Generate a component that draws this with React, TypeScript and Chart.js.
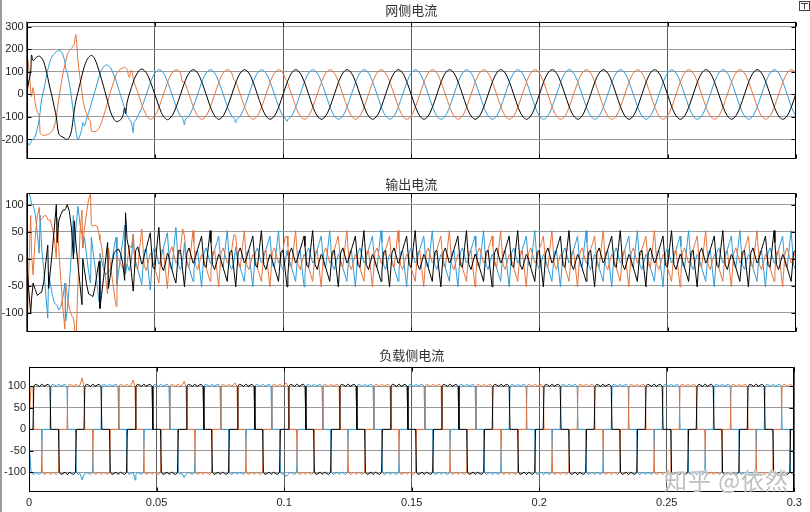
import React, { useEffect, useRef } from "react";
import { Chart, registerables } from "chart.js";

Chart.register(...registerables);

// time axis (milliseconds)
const T_MS = [
  0,0.83,1.56,1.89,2.5,3.33,4.17,4.89,5.22,5.83,6.67,7.5,8.22,8.56,9.17,10,10.83,11.56,11.89,12.5,13.33,14.17,14.89,15.22,15.83,16.67,17.5,18.22,18.56,19.17,
  20,20.83,21.56,21.89,22.5,23.33,24.17,24.89,25.22,25.83,26.67,27.5,28.22,28.56,29.17,30,30.83,31.56,31.89,32.5,33.33,34.17,34.89,35.22,35.83,36.67,37.5,38.22,38.56,39.17,
  40,40.83,41.56,41.89,42.5,43.33,44.17,44.89,45.22,45.83,46.67,47.5,48.22,48.56,49.17,50,50.83,51.56,51.89,52.5,53.33,54.17,54.89,55.22,55.83,56.67,57.5,58.22,58.56,59.17,
  60,60.83,61.56,61.89,62.5,63.33,64.17,64.89,65.22,65.83,66.67,67.5,68.22,68.56,69.17,70,70.83,71.56,71.89,72.5,73.33,74.17,74.89,75.22,75.83,76.67,77.5,78.22,78.56,79.17,
  80,80.83,81.56,81.89,82.5,83.33,84.17,84.89,85.22,85.83,86.67,87.5,88.22,88.56,89.17,90,90.83,91.56,91.89,92.5,93.33,94.17,94.89,95.22,95.83,96.67,97.5,98.22,98.56,99.17,
  100,100.83,101.56,101.89,102.5,103.33,104.17,104.89,105.22,105.83,106.67,107.5,108.22,108.56,109.17,110,110.83,111.56,111.89,112.5,113.33,114.17,114.89,115.22,115.83,116.67,117.5,118.22,118.56,119.17,
  120,120.83,121.56,121.89,122.5,123.33,124.17,124.89,125.22,125.83,126.67,127.5,128.22,128.56,129.17,130,130.83,131.56,131.89,132.5,133.33,134.17,134.89,135.22,135.83,136.67,137.5,138.22,138.56,139.17,
  140,140.83,141.56,141.89,142.5,143.33,144.17,144.89,145.22,145.83,146.67,147.5,148.22,148.56,149.17,150,150.83,151.56,151.89,152.5,153.33,154.17,154.89,155.22,155.83,156.67,157.5,158.22,158.56,159.17,
  160,160.83,161.56,161.89,162.5,163.33,164.17,164.89,165.22,165.83,166.67,167.5,168.22,168.56,169.17,170,170.83,171.56,171.89,172.5,173.33,174.17,174.89,175.22,175.83,176.67,177.5,178.22,178.56,179.17,
  180,180.83,181.56,181.89,182.5,183.33,184.17,184.89,185.22,185.83,186.67,187.5,188.22,188.56,189.17,190,190.83,191.56,191.89,192.5,193.33,194.17,194.89,195.22,195.83,196.67,197.5,198.22,198.56,199.17,
  200,200.83,201.56,201.89,202.5,203.33,204.17,204.89,205.22,205.83,206.67,207.5,208.22,208.56,209.17,210,210.83,211.56,211.89,212.5,213.33,214.17,214.89,215.22,215.83,216.67,217.5,218.22,218.56,219.17,
  220,220.83,221.56,221.89,222.5,223.33,224.17,224.89,225.22,225.83,226.67,227.5,228.22,228.56,229.17,230,230.83,231.56,231.89,232.5,233.33,234.17,234.89,235.22,235.83,236.67,237.5,238.22,238.56,239.17,
  240,240.83,241.56,241.89,242.5,243.33,244.17,244.89,245.22,245.83,246.67,247.5,248.22,248.56,249.17,250,250.83,251.56,251.89,252.5,253.33,254.17,254.89,255.22,255.83,256.67,257.5,258.22,258.56,259.17,
  260,260.83,261.56,261.89,262.5,263.33,264.17,264.89,265.22,265.83,266.67,267.5,268.22,268.56,269.17,270,270.83,271.56,271.89,272.5,273.33,274.17,274.89,275.22,275.83,276.67,277.5,278.22,278.56,279.17,
  280,280.83,281.56,281.89,282.5,283.33,284.17,284.89,285.22,285.83,286.67,287.5,288.22,288.56,289.17,290,290.83,291.56,291.89,292.5,293.33,294.17,294.89,295.22,295.83,296.67,297.5,298.22,298.56,299.17,
  300,
];

// 网侧电流
const GRID_BLACK = [
  0,60,100,175,150,160,168,170,168,162,145,110,75,55,25,-15,-60,-100,-130,-175,-185,-190,-195,-198,-200,-190,-160,-100,-70,-30,
  10,50,85,100,125,150,165,172,173,170,155,130,105,92,68,35,0,-30,-45,-70,-95,-112,-120,-121,-118,-112,-95,-60,-85,-35,
  0,30,55,66,82,98,110,113,112,107,96,78,57,47,27,0,-28,-52,-62,-80,-97,-108,-112,-112,-106,-95,-78,-58,-48,-28,
  0,28,52,62,78,95,106,110,110,106,95,78,58,48,28,0,-28,-52,-62,-78,-95,-106,-110,-110,-106,-95,-78,-58,-48,-28,
  0,28,52,62,78,95,106,110,110,106,95,78,58,48,28,0,-28,-52,-62,-78,-95,-106,-110,-110,-106,-95,-78,-58,-48,-28,
  0,28,52,62,78,95,106,110,110,106,95,78,58,48,28,0,-28,-52,-62,-78,-95,-106,-110,-110,-106,-95,-78,-58,-48,-28,
  0,28,52,62,78,95,106,110,110,106,95,78,58,48,28,0,-28,-52,-62,-78,-95,-106,-110,-110,-106,-95,-78,-58,-48,-28,
  0,28,52,62,78,95,106,110,110,106,95,78,58,48,28,0,-28,-52,-62,-78,-95,-106,-110,-110,-106,-95,-78,-58,-48,-28,
  0,28,52,62,78,95,106,110,110,106,95,78,58,48,28,0,-28,-52,-62,-78,-95,-106,-110,-110,-106,-95,-78,-58,-48,-28,
  0,28,52,62,78,95,106,110,110,106,95,78,58,48,28,0,-28,-52,-62,-78,-95,-106,-110,-110,-106,-95,-78,-58,-48,-28,
  0,28,52,62,78,95,106,110,110,106,95,78,58,48,28,0,-28,-52,-62,-78,-95,-106,-110,-110,-106,-95,-78,-58,-48,-28,
  0,28,52,62,78,95,106,110,110,106,95,78,58,48,28,0,-28,-52,-62,-78,-95,-106,-110,-110,-106,-95,-78,-58,-48,-28,
  0,28,52,62,78,95,106,110,110,106,95,78,58,48,28,0,-28,-52,-62,-78,-95,-106,-110,-110,-106,-95,-78,-58,-48,-28,
  0,28,52,62,78,95,106,110,110,106,95,78,58,48,28,0,-28,-52,-62,-78,-95,-106,-110,-110,-106,-95,-78,-58,-48,-28,
  0,28,52,62,78,95,106,110,110,106,95,78,58,48,28,0,-28,-52,-62,-78,-95,-106,-110,-110,-106,-95,-78,-58,-48,-28,
  0,
];
const GRID_BLUE = [
  -200,-225,-215,-205,-200,-185,-150,-110,-80,-20,20,70,110,125,150,170,182,190,192,195,192,175,145,115,95,45,-15,-80,-110,-160,
  -200,-180,-150,-125,-140,-110,-80,-55,-40,-15,15,50,80,90,108,122,130,130,128,122,105,82,60,48,25,-5,-35,-62,-72,-95,
  -110,-125,-170,-125,-115,-95,-78,-58,-48,-28,0,28,52,62,78,95,106,110,110,106,95,78,58,48,28,0,-28,-52,-62,-78,
  -95,-106,-135,-110,-106,-95,-78,-58,-48,-28,0,28,52,62,78,95,106,110,110,106,95,78,58,48,28,0,-28,-52,-62,-78,
  -95,-106,-125,-110,-106,-95,-78,-58,-48,-28,0,28,52,62,78,95,106,110,110,106,95,78,58,48,28,0,-28,-52,-62,-78,
  -95,-106,-120,-110,-106,-95,-78,-58,-48,-28,0,28,52,62,78,95,106,110,110,106,95,78,58,48,28,0,-28,-52,-62,-78,
  -95,-106,-110,-110,-106,-95,-78,-58,-48,-28,0,28,52,62,78,95,106,110,110,106,95,78,58,48,28,0,-28,-52,-62,-78,
  -95,-106,-110,-110,-106,-95,-78,-58,-48,-28,0,28,52,62,78,95,106,110,110,106,95,78,58,48,28,0,-28,-52,-62,-78,
  -95,-106,-110,-110,-106,-95,-78,-58,-48,-28,0,28,52,62,78,95,106,110,110,106,95,78,58,48,28,0,-28,-52,-62,-78,
  -95,-106,-110,-110,-106,-95,-78,-58,-48,-28,0,28,52,62,78,95,106,110,110,106,95,78,58,48,28,0,-28,-52,-62,-78,
  -95,-106,-110,-110,-106,-95,-78,-58,-48,-28,0,28,52,62,78,95,106,110,110,106,95,78,58,48,28,0,-28,-52,-62,-78,
  -95,-106,-110,-110,-106,-95,-78,-58,-48,-28,0,28,52,62,78,95,106,110,110,106,95,78,58,48,28,0,-28,-52,-62,-78,
  -95,-106,-110,-110,-106,-95,-78,-58,-48,-28,0,28,52,62,78,95,106,110,110,106,95,78,58,48,28,0,-28,-52,-62,-78,
  -95,-106,-110,-110,-106,-95,-78,-58,-48,-28,0,28,52,62,78,95,106,110,110,106,95,78,58,48,28,0,-28,-52,-62,-78,
  -95,-106,-110,-110,-106,-95,-78,-58,-48,-28,0,28,52,62,78,95,106,110,110,106,95,78,58,48,28,0,-28,-52,-62,-78,
  -95,
];
const GRID_ORANGE = [
  190,120,20,-10,30,-40,-80,-95,-170,-178,-182,-180,-178,-176,-172,-160,-140,-100,-75,-20,40,95,130,145,175,195,205,215,225,265,
  150,70,10,-20,-55,-85,-110,-120,-162,-165,-165,-160,-150,-140,-125,-95,-65,-35,-20,5,35,65,88,95,105,113,118,120,118,110,
  75,108,70,55,35,10,-20,-45,-55,-72,-92,-105,-110,-110,-106,-95,-78,-58,-48,-28,0,28,52,62,78,95,106,110,110,106,
  95,55,58,48,28,0,-28,-52,-62,-78,-95,-106,-110,-110,-106,-95,-78,-58,-48,-28,0,28,52,62,78,95,106,110,110,106,
  95,65,58,48,28,0,-28,-52,-62,-78,-95,-106,-110,-110,-106,-95,-78,-58,-48,-28,0,28,52,62,78,95,106,110,110,106,
  95,70,58,48,28,0,-28,-52,-62,-78,-95,-106,-110,-110,-106,-95,-78,-58,-48,-28,0,28,52,62,78,95,106,110,110,106,
  95,78,58,48,28,0,-28,-52,-62,-78,-95,-106,-110,-110,-106,-95,-78,-58,-48,-28,0,28,52,62,78,95,106,110,110,106,
  95,78,58,48,28,0,-28,-52,-62,-78,-95,-106,-110,-110,-106,-95,-78,-58,-48,-28,0,28,52,62,78,95,106,110,110,106,
  95,78,58,48,28,0,-28,-52,-62,-78,-95,-106,-110,-110,-106,-95,-78,-58,-48,-28,0,28,52,62,78,95,106,110,110,106,
  95,78,58,48,28,0,-28,-52,-62,-78,-95,-106,-110,-110,-106,-95,-78,-58,-48,-28,0,28,52,62,78,95,106,110,110,106,
  95,78,58,48,28,0,-28,-52,-62,-78,-95,-106,-110,-110,-106,-95,-78,-58,-48,-28,0,28,52,62,78,95,106,110,110,106,
  95,78,58,48,28,0,-28,-52,-62,-78,-95,-106,-110,-110,-106,-95,-78,-58,-48,-28,0,28,52,62,78,95,106,110,110,106,
  95,78,58,48,28,0,-28,-52,-62,-78,-95,-106,-110,-110,-106,-95,-78,-58,-48,-28,0,28,52,62,78,95,106,110,110,106,
  95,78,58,48,28,0,-28,-52,-62,-78,-95,-106,-110,-110,-106,-95,-78,-58,-48,-28,0,28,52,62,78,95,106,110,110,106,
  95,78,58,48,28,0,-28,-52,-62,-78,-95,-106,-110,-110,-106,-95,-78,-58,-48,-28,0,28,52,62,78,95,106,110,110,106,
  95,
];

// 输出电流
const OUT_BLACK = [
  0,-60,-100,-75,-45,-57,-68,-65,-63,-62,-42,-5,25,-55,-25,15,60,100,30,70,82,90,90,93,100,87,55,0,70,30,
  -10,-50,-85,0,-20,-47,-65,-67,-68,-70,-52,-25,-5,-92,-68,-35,0,30,-55,-35,-8,12,15,16,18,9,-10,-40,85,35,
  16,-25,-60,-35,15,22,5,-10,-8,5,20,35,48,25,-15,-20,25,58,32,-12,-22,-8,10,8,-5,-20,-35,-45,-25,15,
  16,-21,-52,-30,11,20,5,-8,-6,3,17,30,42,23,-12,-16,21,52,30,-11,-20,-5,8,6,-3,-17,-30,-42,-23,12,
  16,-21,-52,-30,11,20,5,-8,-6,3,17,30,42,23,-12,-16,21,52,30,-11,-20,-5,8,6,-3,-17,-30,-42,-23,12,
  16,-21,-52,-30,11,20,5,-8,-6,3,17,30,42,23,-12,-16,21,52,30,-11,-20,-5,8,6,-3,-17,-30,-42,-23,12,
  16,-21,-52,-30,11,20,5,-8,-6,3,17,30,42,23,-12,-16,21,52,30,-11,-20,-5,8,6,-3,-17,-30,-42,-23,12,
  16,-21,-52,-30,11,20,5,-8,-6,3,17,30,42,23,-12,-16,21,52,30,-11,-20,-5,8,6,-3,-17,-30,-42,-23,12,
  16,-21,-52,-30,11,20,5,-8,-6,3,17,30,42,23,-12,-16,21,52,30,-11,-20,-5,8,6,-3,-17,-30,-42,-23,12,
  16,-21,-52,-30,11,20,5,-8,-6,3,17,30,42,23,-12,-16,21,52,30,-11,-20,-5,8,6,-3,-17,-30,-42,-23,12,
  16,-21,-52,-30,11,20,5,-8,-6,3,17,30,42,23,-12,-16,21,52,30,-11,-20,-5,8,6,-3,-17,-30,-42,-23,12,
  16,-21,-52,-30,11,20,5,-8,-6,3,17,30,42,23,-12,-16,21,52,30,-11,-20,-5,8,6,-3,-17,-30,-42,-23,12,
  16,-21,-52,-30,11,20,5,-8,-6,3,17,30,42,23,-12,-16,21,52,30,-11,-20,-5,8,6,-3,-17,-30,-42,-23,12,
  16,-21,-52,-30,11,20,5,-8,-6,3,17,30,42,23,-12,-16,21,52,30,-11,-20,-5,8,6,-3,-17,-30,-42,-23,12,
  16,-21,-52,-30,11,20,5,-8,-6,3,17,30,42,23,-12,-16,21,52,30,-11,-20,-5,8,6,-3,-17,-30,-42,-23,12,
  16,
];
const OUT_BLUE = [
  170,125,110,100,100,82,45,10,80,20,-20,-70,-110,-25,-45,-67,-82,-85,-87,-95,-89,-70,-45,-115,-95,-45,15,80,10,55,
  97,62,45,20,40,7,-25,-45,40,15,-15,-50,-80,10,-3,-19,-30,-25,-23,-22,-2,23,40,-48,-25,5,35,62,-28,-10,
  -22,-5,45,10,-5,-20,-35,-48,-25,15,18,-25,-58,-35,12,22,5,-10,-8,5,20,35,48,25,-15,-20,25,58,32,-12,
  -20,-5,30,6,-3,-17,-30,-42,-23,12,16,-21,-52,-30,11,20,5,-8,-6,3,17,30,42,23,-12,-16,21,52,30,-11,
  -20,-5,22,6,-3,-17,-30,-42,-23,12,16,-21,-52,-30,11,20,5,-8,-6,3,17,30,42,23,-12,-16,21,52,30,-11,
  -20,-5,15,6,-3,-17,-30,-42,-23,12,16,-21,-52,-30,11,20,5,-8,-6,3,17,30,42,23,-12,-16,21,52,30,-11,
  -20,-5,8,6,-3,-17,-30,-42,-23,12,16,-21,-52,-30,11,20,5,-8,-6,3,17,30,42,23,-12,-16,21,52,30,-11,
  -20,-5,8,6,-3,-17,-30,-42,-23,12,16,-21,-52,-30,11,20,5,-8,-6,3,17,30,42,23,-12,-16,21,52,30,-11,
  -20,-5,8,6,-3,-17,-30,-42,-23,12,16,-21,-52,-30,11,20,5,-8,-6,3,17,30,42,23,-12,-16,21,52,30,-11,
  -20,-5,8,6,-3,-17,-30,-42,-23,12,16,-21,-52,-30,11,20,5,-8,-6,3,17,30,42,23,-12,-16,21,52,30,-11,
  -20,-5,8,6,-3,-17,-30,-42,-23,12,16,-21,-52,-30,11,20,5,-8,-6,3,17,30,42,23,-12,-16,21,52,30,-11,
  -20,-5,8,6,-3,-17,-30,-42,-23,12,16,-21,-52,-30,11,20,5,-8,-6,3,17,30,42,23,-12,-16,21,52,30,-11,
  -20,-5,8,6,-3,-17,-30,-42,-23,12,16,-21,-52,-30,11,20,5,-8,-6,3,17,30,42,23,-12,-16,21,52,30,-11,
  -20,-5,8,6,-3,-17,-30,-42,-23,12,16,-21,-52,-30,11,20,5,-8,-6,3,17,30,42,23,-12,-16,21,52,30,-11,
  -20,-5,8,6,-3,-17,-30,-42,-23,12,16,-21,-52,-30,11,20,5,-8,-6,3,17,30,42,23,-12,-16,21,52,30,-11,
  -20,
];
const OUT_ORANGE = [
  -170,-20,80,10,-30,40,80,95,70,73,79,80,73,71,72,57,35,0,75,20,-40,-95,-130,-45,-70,-92,-105,-110,-120,-165,
  -47,50,90,20,55,85,110,120,62,60,62,60,45,35,25,-8,-40,-65,20,-5,-35,-65,-88,5,0,-10,-18,-15,-13,-10,
  25,20,45,20,-15,-20,25,55,32,-12,-22,-5,10,8,-5,-20,-32,-45,-25,15,18,-25,-55,-32,12,22,5,-8,-6,5,
  17,55,42,23,-12,-16,21,52,30,-11,-20,-5,8,6,-3,-17,-30,-42,-23,12,16,-21,-52,-30,11,20,5,-8,-6,3,
  17,45,42,23,-12,-16,21,52,30,-11,-20,-5,8,6,-3,-17,-30,-42,-23,12,16,-21,-52,-30,11,20,5,-8,-6,3,
  17,40,42,23,-12,-16,21,52,30,-11,-20,-5,8,6,-3,-17,-30,-42,-23,12,16,-21,-52,-30,11,20,5,-8,-6,3,
  17,30,42,23,-12,-16,21,52,30,-11,-20,-5,8,6,-3,-17,-30,-42,-23,12,16,-21,-52,-30,11,20,5,-8,-6,3,
  17,30,42,23,-12,-16,21,52,30,-11,-20,-5,8,6,-3,-17,-30,-42,-23,12,16,-21,-52,-30,11,20,5,-8,-6,3,
  17,30,42,23,-12,-16,21,52,30,-11,-20,-5,8,6,-3,-17,-30,-42,-23,12,16,-21,-52,-30,11,20,5,-8,-6,3,
  17,30,42,23,-12,-16,21,52,30,-11,-20,-5,8,6,-3,-17,-30,-42,-23,12,16,-21,-52,-30,11,20,5,-8,-6,3,
  17,30,42,23,-12,-16,21,52,30,-11,-20,-5,8,6,-3,-17,-30,-42,-23,12,16,-21,-52,-30,11,20,5,-8,-6,3,
  17,30,42,23,-12,-16,21,52,30,-11,-20,-5,8,6,-3,-17,-30,-42,-23,12,16,-21,-52,-30,11,20,5,-8,-6,3,
  17,30,42,23,-12,-16,21,52,30,-11,-20,-5,8,6,-3,-17,-30,-42,-23,12,16,-21,-52,-30,11,20,5,-8,-6,3,
  17,30,42,23,-12,-16,21,52,30,-11,-20,-5,8,6,-3,-17,-30,-42,-23,12,16,-21,-52,-30,11,20,5,-8,-6,3,
  17,30,42,23,-12,-16,21,52,30,-11,-20,-5,8,6,-3,-17,-30,-42,-23,12,16,-21,-52,-30,11,20,5,-8,-6,3,
  17,
];

// 负载侧电流
const LOAD_BLACK = [
  0,0,0,100,105,103,100,105,105,100,103,105,100,0,0,0,0,0,-100,-105,-103,-100,-105,-105,-100,-103,-105,-100,0,0,
  0,0,0,100,105,103,100,105,105,100,103,105,100,0,0,0,0,0,-100,-105,-103,-100,-105,-105,-100,-103,-105,-100,0,0,
  0,0,0,100,105,103,100,105,105,100,103,105,100,0,0,0,0,0,-100,-105,-103,-100,-105,-105,-100,-103,-105,-100,0,0,
  0,0,0,100,105,103,100,105,105,100,103,105,100,0,0,0,0,0,-100,-105,-103,-100,-105,-105,-100,-103,-105,-100,0,0,
  0,0,0,100,105,103,100,105,105,100,103,105,100,0,0,0,0,0,-100,-105,-103,-100,-105,-105,-100,-103,-105,-100,0,0,
  0,0,0,100,105,103,100,105,105,100,103,105,100,0,0,0,0,0,-100,-105,-103,-100,-105,-105,-100,-103,-105,-100,0,0,
  0,0,0,100,105,103,100,105,105,100,103,105,100,0,0,0,0,0,-100,-105,-103,-100,-105,-105,-100,-103,-105,-100,0,0,
  0,0,0,100,105,103,100,105,105,100,103,105,100,0,0,0,0,0,-100,-105,-103,-100,-105,-105,-100,-103,-105,-100,0,0,
  0,0,0,100,105,103,100,105,105,100,103,105,100,0,0,0,0,0,-100,-105,-103,-100,-105,-105,-100,-103,-105,-100,0,0,
  0,0,0,100,105,103,100,105,105,100,103,105,100,0,0,0,0,0,-100,-105,-103,-100,-105,-105,-100,-103,-105,-100,0,0,
  0,0,0,100,105,103,100,105,105,100,103,105,100,0,0,0,0,0,-100,-105,-103,-100,-105,-105,-100,-103,-105,-100,0,0,
  0,0,0,100,105,103,100,105,105,100,103,105,100,0,0,0,0,0,-100,-105,-103,-100,-105,-105,-100,-103,-105,-100,0,0,
  0,0,0,100,105,103,100,105,105,100,103,105,100,0,0,0,0,0,-100,-105,-103,-100,-105,-105,-100,-103,-105,-100,0,0,
  0,0,0,100,105,103,100,105,105,100,103,105,100,0,0,0,0,0,-100,-105,-103,-100,-105,-105,-100,-103,-105,-100,0,0,
  0,0,0,100,105,103,100,105,105,100,103,105,100,0,0,0,0,0,-100,-105,-103,-100,-105,-105,-100,-103,-105,-100,0,0,
  0,
];
const LOAD_BLUE = [
  -30,-100,-105,-105,-100,-103,-105,-100,0,0,0,0,0,100,105,103,100,105,105,100,103,105,100,0,0,0,0,0,-100,-105,
  -103,-118,-105,-105,-100,-103,-105,-100,0,0,0,0,0,100,105,103,100,105,105,100,103,105,100,0,0,0,0,0,-100,-105,
  -103,-100,-118,-105,-100,-103,-105,-100,0,0,0,0,0,100,105,103,100,105,105,100,103,105,100,0,0,0,0,0,-100,-105,
  -103,-112,-105,-105,-100,-103,-105,-100,0,0,0,0,0,100,105,103,100,105,105,100,103,105,100,0,0,0,0,0,-100,-105,
  -103,-100,-105,-105,-100,-103,-105,-100,0,0,0,0,0,100,105,103,100,105,105,100,103,105,100,0,0,0,0,0,-100,-105,
  -103,-110,-105,-105,-100,-103,-105,-100,0,0,0,0,0,100,105,103,100,105,105,100,103,105,100,0,0,0,0,0,-100,-105,
  -103,-100,-105,-105,-100,-103,-105,-100,0,0,0,0,0,100,105,103,100,105,105,100,103,105,100,0,0,0,0,0,-100,-105,
  -103,-100,-105,-105,-100,-103,-105,-100,0,0,0,0,0,100,105,103,100,105,105,100,103,105,100,0,0,0,0,0,-100,-105,
  -103,-100,-105,-105,-100,-103,-105,-100,0,0,0,0,0,100,105,103,100,105,105,100,103,105,100,0,0,0,0,0,-100,-105,
  -103,-100,-105,-105,-100,-103,-105,-100,0,0,0,0,0,100,105,103,100,105,105,100,103,105,100,0,0,0,0,0,-100,-105,
  -103,-100,-105,-105,-100,-103,-105,-100,0,0,0,0,0,100,105,103,100,105,105,100,103,105,100,0,0,0,0,0,-100,-105,
  -103,-100,-105,-105,-100,-103,-105,-100,0,0,0,0,0,100,105,103,100,105,105,100,103,105,100,0,0,0,0,0,-100,-105,
  -103,-100,-105,-105,-100,-103,-105,-100,0,0,0,0,0,100,105,103,100,105,105,100,103,105,100,0,0,0,0,0,-100,-105,
  -103,-100,-105,-105,-100,-103,-105,-100,0,0,0,0,0,100,105,103,100,105,105,100,103,105,100,0,0,0,0,0,-100,-105,
  -103,-100,-105,-105,-100,-103,-105,-100,0,0,0,0,0,100,105,103,100,105,105,100,103,105,100,0,0,0,0,0,-100,-105,
  -103,
];
const LOAD_ORANGE = [
  20,100,100,0,0,0,0,0,-100,-105,-103,-100,-105,-105,-100,-103,-105,-100,0,0,0,0,0,100,105,103,100,105,105,100,
  103,120,100,0,0,0,0,0,-100,-105,-103,-100,-105,-105,-100,-103,-105,-100,0,0,0,0,0,100,105,103,100,105,105,100,
  103,115,100,0,0,0,0,0,-100,-105,-103,-100,-105,-105,-100,-103,-105,-100,0,0,0,0,0,100,105,103,100,105,105,100,
  103,112,100,0,0,0,0,0,-100,-105,-103,-100,-105,-105,-100,-103,-105,-100,0,0,0,0,0,100,105,103,100,105,105,100,
  103,108,100,0,0,0,0,0,-100,-105,-103,-100,-105,-105,-100,-103,-105,-100,0,0,0,0,0,100,105,103,100,105,105,100,
  103,108,100,0,0,0,0,0,-100,-105,-103,-100,-105,-105,-100,-103,-105,-100,0,0,0,0,0,100,105,103,100,105,105,100,
  103,105,100,0,0,0,0,0,-100,-105,-103,-100,-105,-105,-100,-103,-105,-100,0,0,0,0,0,100,105,103,100,105,105,100,
  103,105,100,0,0,0,0,0,-100,-105,-103,-100,-105,-105,-100,-103,-105,-100,0,0,0,0,0,100,105,103,100,105,105,100,
  103,105,100,0,0,0,0,0,-100,-105,-103,-100,-105,-105,-100,-103,-105,-100,0,0,0,0,0,100,105,103,100,105,105,100,
  103,105,100,0,0,0,0,0,-100,-105,-103,-100,-105,-105,-100,-103,-105,-100,0,0,0,0,0,100,105,103,100,105,105,100,
  103,105,100,0,0,0,0,0,-100,-105,-103,-100,-105,-105,-100,-103,-105,-100,0,0,0,0,0,100,105,103,100,105,105,100,
  103,105,100,0,0,0,0,0,-100,-105,-103,-100,-105,-105,-100,-103,-105,-100,0,0,0,0,0,100,105,103,100,105,105,100,
  103,105,100,0,0,0,0,0,-100,-105,-103,-100,-105,-105,-100,-103,-105,-100,0,0,0,0,0,100,105,103,100,105,105,100,
  103,105,100,0,0,0,0,0,-100,-105,-103,-100,-105,-105,-100,-103,-105,-100,0,0,0,0,0,100,105,103,100,105,105,100,
  103,105,100,0,0,0,0,0,-100,-105,-103,-100,-105,-105,-100,-103,-105,-100,0,0,0,0,0,100,105,103,100,105,105,100,
  103,
];

const TITLES = ["网侧电流", "输出电流", "负载侧电流"];
const X_TICKS = [0, 50, 100, 150, 200, 250, 300];
const X_TICK_LABELS = ["0", "0.05", "0.1", "0.15", "0.2", "0.25", "0.3"];
const Y_TICKS_GRID = [300, 200, 100, 0, -100, -200];
const Y_TICKS_OUT = [100, 50, 0, -50, -100];
const Y_TICKS_LOAD = [100, 50, 0, -50, -100];

const COLOR_BLACK = "#000000";
const COLOR_ORANGE = "#e5733c";
const COLOR_BLUE = "#2f9ad6";

type Panel = {
  title: string;
  series: number[][];
  yMin: number;
  yMax: number;
  yTicks: number[];
  top: number;
  height: number;
  leftW: number;
  rightPad: number;
  titleTop: number;
  titleBottom: number;
  xHeight: number;
  xLabels: boolean;
  tension: number;
};

const PANELS: Panel[] = [
  { title: TITLES[0], series: [GRID_BLACK, GRID_ORANGE, GRID_BLUE], yMin: -288, yMax: 324, yTicks: Y_TICKS_GRID,
    top: 0, height: 172, leftW: 26.7, rightPad: 14.3, titleTop: 2.7, titleBottom: 3.2, xHeight: 12.7, xLabels: false, tension: 0.35 },
  { title: TITLES[1], series: [OUT_BLACK, OUT_ORANGE, OUT_BLUE], yMin: -135, yMax: 121, yTicks: Y_TICKS_OUT,
    top: 172, height: 172, leftW: 26.7, rightPad: 14.3, titleTop: 4.5, titleBottom: 1.2, xHeight: 12.3, xLabels: false, tension: 0 },
  { title: TITLES[2], series: [LOAD_BLACK, LOAD_ORANGE, LOAD_BLUE], yMin: -146, yMax: 146, yTicks: Y_TICKS_LOAD,
    top: 344, height: 168, leftW: 29, rightPad: 15.7, titleTop: 3.0, titleBottom: 4.1, xHeight: 20, xLabels: true, tension: 0 },
];

const TICK_FONT = { family: '"Liberation Sans", Arial, sans-serif', size: 11 };

const framePlugin = {
  id: "matlabFrame",
  afterDraw(chart: any) {
    const { ctx, chartArea: a, scales } = chart;
    const l = Math.round(a.left) + 0.5;
    const r = Math.round(a.right) - 0.5;
    const t = Math.round(a.top) + 0.5;
    const b = Math.round(a.bottom) - 0.5;
    ctx.save();
    ctx.strokeStyle = "#000";
    ctx.lineWidth = 1;
    ctx.beginPath();
    ctx.rect(l, t, r - l, b - t);
    const ys = scales.y;
    ys.ticks.forEach((tk: any) => {
      const py = Math.round(ys.getPixelForValue(tk.value)) + 0.5;
      ctx.moveTo(l, py); ctx.lineTo(l + 4, py);
      ctx.moveTo(r, py); ctx.lineTo(r - 4, py);
    });
    const xs = scales.x;
    xs.ticks.forEach((tk: any) => {
      const px = Math.round(xs.getPixelForValue(tk.value)) + 0.5;
      ctx.moveTo(px, t); ctx.lineTo(px, t + 4);
      ctx.moveTo(px, b); ctx.lineTo(px, b - 4);
    });
    ctx.stroke();
    ctx.restore();
  },
};

function buildConfig(p: Panel): any {
  const colors = [COLOR_BLACK, COLOR_ORANGE, COLOR_BLUE];
  const datasets = p.series.map((arr, k) => {
    const n = Math.min(arr.length, T_MS.length);
    const pts = [];
    for (let i = 0; i < n; i++) pts.push({ x: T_MS[i], y: arr[i] });
    return {
      data: pts,
      borderColor: colors[k],
      backgroundColor: colors[k],
      borderWidth: 1,
      pointRadius: 0,
      pointHoverRadius: 0,
      fill: false,
      tension: p.tension,
    };
  });
  return {
    type: "line",
    data: { datasets },
    plugins: [framePlugin],
    options: {
      animation: false,
      responsive: false,
      events: [],
      layout: { padding: { left: 0, right: p.rightPad, top: 0, bottom: 0 } },
      plugins: {
        legend: { display: false },
        tooltip: { enabled: false },
        title: {
          display: true,
          text: p.title,
          fullSize: false,
          color: "#333333",
          font: { family: '"Noto Sans CJK SC", sans-serif', size: 13, weight: "normal", lineHeight: 1.2 },
          padding: { top: p.titleTop, bottom: p.titleBottom },
        },
      },
      scales: {
        x: {
          type: "linear",
          min: 0,
          max: 300,
          afterBuildTicks: (s: any) => { s.ticks = X_TICKS.map((v) => ({ value: v })); },
          afterFit: (s: any) => { s.height = p.xHeight; },
          border: { display: false },
          grid: { color: "#5a5a5a", lineWidth: 1, drawTicks: false },
          ticks: {
            display: p.xLabels,
            padding: 4,
            color: "#262626",
            font: TICK_FONT,
            maxRotation: 0,
            autoSkip: false,
            callback: (_v: any, i: number) => X_TICK_LABELS[i],
          },
        },
        y: {
          type: "linear",
          min: p.yMin,
          max: p.yMax,
          afterBuildTicks: (s: any) => { s.ticks = p.yTicks.map((v) => ({ value: v })); },
          afterFit: (s: any) => { s.width = p.leftW; },
          border: { display: false },
          grid: { color: "#9a9a9a", lineWidth: 1, drawTicks: false },
          ticks: {
            padding: 3,
            color: "#262626",
            font: TICK_FONT,
            autoSkip: false,
            callback: (v: any) => String(v),
          },
        },
      },
    },
  };
}

export default function App() {
  const r1 = useRef<HTMLCanvasElement>(null);
  const r2 = useRef<HTMLCanvasElement>(null);
  const r3 = useRef<HTMLCanvasElement>(null);

  useEffect(() => {
    const refs = [r1, r2, r3];
    const charts: Chart[] = [];
    PANELS.forEach((p, i) => {
      const c = refs[i].current;
      if (c) charts.push(new Chart(c, buildConfig(p)));
    });
    return () => charts.forEach((c) => c.destroy());
  }, []);

  const refs = [r1, r2, r3];
  return (
    <div style={{ position: "fixed", left: 0, top: 0, width: 810, height: 512, background: "#ffffff", overflow: "hidden" }}>
      {PANELS.map((p, i) => (
        <canvas
          key={i}
          ref={refs[i]}
          width={810}
          height={p.height}
          style={{ position: "absolute", left: 0, top: p.top, width: 810, height: p.height }}
        />
      ))}
      <div style={{ position: "absolute", left: 0, top: 0, width: 2, height: 512, background: "#9c9c9c" }} />
      <div style={{ position: "absolute", left: 799, top: 1, width: 9, height: 8, border: "1px solid #444", background: "#fff" }}>
        <div style={{ position: "absolute", left: 1, top: 1, width: 7, height: 1, background: "#444" }} />
        <div style={{ position: "absolute", left: 4, top: 2, width: 1, height: 5, background: "#444" }} />
      </div>
      <div
        style={{
          position: "absolute",
          left: 664,
          top: 467,
          fontFamily: '"Noto Sans CJK SC", sans-serif',
          fontSize: 23,
          letterSpacing: 1,
          lineHeight: "24px",
          color: "rgba(175,175,175,0.8)",
          textShadow: "0 0 2px #ffffff, 0 0 1px #ffffff",
          whiteSpace: "nowrap",
        }}
      >
        知乎 @依然
      </div>
    </div>
  );
}
